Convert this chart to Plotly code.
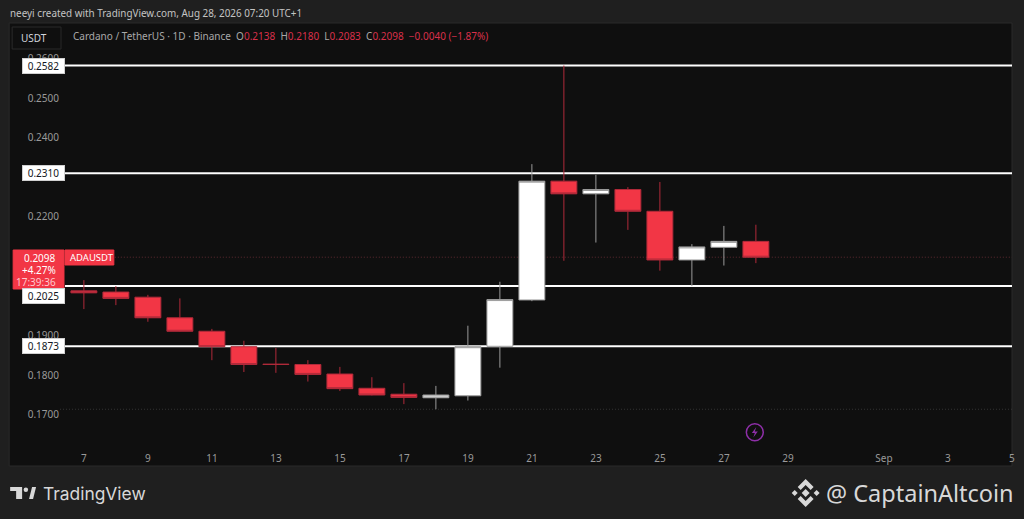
import plotly.graph_objects as go

# daily candles
dates = ['2026-08-%02d' % d for d in range(7, 29)]
opens = [.2013, .2010, .1997, .1945, .1911, .1872, .1828, .1827, .1803, .1767, .1752,
         .1743, .1748, .1873, .1990, .2290, .2258, .2269, .2214, .2091, .2123, .2138]
highs = [.2040, .2025, .2003, .1994, .1917, .1887, .1869, .1838, .1821, .1795, .1780,
         .1773, .1925, .2036, .2333, .2582, .2306, .2275, .2288, .2131, .2177, .2180]
lows = [.1967, .1977, .1935, .1910, .1838, .1808, .1806, .1784, .1760, .1749, .1727,
        .1714, .1736, .1819, .1987, .2089, .2135, .2167, .2064, .2025, .2077, .2083]
closes = [.2008, .1994, .1945, .1911, .1872, .1827, .1827, .1802, .1766, .1750, .1744,
          .1750, .1872, .1991, .2290, .2258, .2269, .2214, .2091, .2124, .2138, .2098]

levels = [0.2582, 0.2310, 0.2025, 0.1873]
price_ticks = [0.26, 0.25, 0.24, 0.22, 0.19, 0.18, 0.17]
last_price = 0.2098
dotted_low = 0.1714

date_ticks = ['2026-08-07', '2026-08-09', '2026-08-11', '2026-08-13', '2026-08-15', '2026-08-17',
              '2026-08-19', '2026-08-21', '2026-08-23', '2026-08-25', '2026-08-27', '2026-08-29',
              '2026-09-01', '2026-09-03', '2026-09-05']
date_labels = ['7', '9', '11', '13', '15', '17', '19', '21', '23', '25', '27', '29', 'Sep', '3', '5']

FONT = 'Noto Sans'
W, H = 1024, 519
L, R, T, B = 60, 1015, 24, 447


# pixel helpers for the furniture around the chart
def px(x):
    return (x - L) / (R - L)


def py(y):
    return 1 - (y - T) / (B - T)


def poly(points, color):
    d = 'M' + ' L'.join('%.5f,%.5f' % (px(a), py(b)) for a, b in points) + ' Z'
    return dict(type='path', xref='paper', yref='paper', path=d, fillcolor=color, line_width=0, layer='above')


def box(x0, y0, x1, y1, fill, line=None, layer='below'):
    return dict(type='rect', xref='paper', yref='paper', x0=px(x0), x1=px(x1), y0=py(y0), y1=py(y1),
                fillcolor=fill, line=dict(color=line or fill, width=1), layer=layer)


def label(x, y, text, color='#c8c8c8', size=10, anchor='left', font=FONT):
    return dict(x=px(x), y=py(y), xref='paper', yref='paper', text=text, showarrow=False,
                xanchor=anchor, yanchor='middle', font=dict(family=font, size=size, color=color), borderpad=0)


fig = go.Figure(go.Candlestick(
    x=dates, open=opens, high=highs, low=lows, close=closes,
    increasing=dict(line=dict(color='#9a9a9a', width=1), fillcolor='#ffffff'),
    decreasing=dict(line=dict(color='#b02a3a', width=1), fillcolor='#f23645'),
    hoverinfo='skip', showlegend=False))

shapes = [box(9, 23, 1015, 466, '#0f0f0f', '#2a2a2a')]
for lv in levels:
    shapes.append(dict(type='line', xref='paper', yref='y', x0=px(65), x1=1, y0=lv, y1=lv,
                       line=dict(color='#ffffff', width=2), layer='below'))
shapes.append(dict(type='line', xref='paper', yref='y', x0=px(115), x1=1, y0=last_price, y1=last_price,
                   line=dict(color='#5e2a30', width=1, dash='1px,2px'), layer='below'))
shapes.append(dict(type='line', xref='paper', yref='y', x0=0, x1=1, y0=dotted_low, y1=dotted_low,
                   line=dict(color='#333333', width=1, dash='1px,2px'), layer='below'))

# usdt button, level boxes, red price tag
shapes.append(dict(type='rect', xref='paper', yref='paper', x0=px(12), x1=px(61), y0=py(27), y1=py(49),
                   line=dict(color='#2a2a2a', width=1), fillcolor='#0f0f0f', layer='below'))
ann = []
for lv in levels:
    # the 0.2025 box is pushed down under the red price tag
    ann.append(dict(x=px(43), y=lv, xref='paper', yref='y', xanchor='center', yanchor='middle',
                    yshift=-9.5 if lv == 0.2025 else 0,
                    text='%.4f' % lv, showarrow=False, width=41, height=14,
                    bgcolor='#ffffff', bordercolor='#d0d0d0', borderwidth=1, borderpad=0,
                    font=dict(family=FONT, size=10, color='#131722')))
shapes.append(box(13, 250, 64, 289, '#f23645', layer='above'))
shapes.append(box(65, 250, 114, 265, '#f23645', layer='above'))

# logos
logo = '#d8d8d8'
shapes += [
    poly([(10, 487), (22, 487), (22, 499), (16, 499), (16, 491), (10, 491)], logo),
    poly([(29, 499), (32, 487), (36, 487), (33, 499)], logo),
    dict(type='circle', xref='paper', yref='paper', x0=px(23.5), x1=px(28), y0=py(487.5), y1=py(492),
         fillcolor=logo, line_width=0, layer='above'),
    poly([(808, 479), (816, 487), (813, 490), (808, 485), (803, 490), (800, 487)], logo),
    poly([(808, 507), (816, 499), (813, 496), (808, 501), (803, 496), (800, 499)], logo),
    poly([(797, 490), (800, 493), (797, 496), (794, 493)], logo),
    poly([(819, 490), (822, 493), (819, 496), (816, 493)], logo),
    poly([(808, 489), (812, 493), (808, 497), (804, 493)], logo),
    dict(type='circle', xref='paper', yref='paper', x0=px(748.5), x1=px(765.5), y0=py(423.8), y1=py(440.8),
         fillcolor='rgba(0,0,0,0)', line=dict(color='#8e2fa8', width=1.5), layer='above'),
    poly([(758.5, 427), (754, 433), (757, 433), (755.5, 437.5), (760, 431.5), (757, 431.5)], '#8e2fa8'),
]

ann.append(label(9, 13, 'neeyi created with TradingView.com, Aug 28, 2026 07:20 UTC+1', '#c4c4c4', 9.9))
ann.append(label(20, 38, 'USDT', '#d1d4dc', 10))
red = '#d9304a'
grey = '#a8a8a8'
ohlc = ('<span style="color:%s">Cardano / TetherUS · 1D · Binance&nbsp;&nbsp;O</span>0.2138'
        '<span style="color:%s">&nbsp;&nbsp;H</span>0.2180<span style="color:%s">&nbsp;&nbsp;L</span>0.2083'
        '<span style="color:%s">&nbsp;&nbsp;C</span>0.2098&nbsp;&nbsp;−0.0040 (−1.87%%)') % (grey, grey, grey, grey)
ann.append(label(72, 36.5, ohlc, red, 10))
ann.append(label(57, 257.5, '0.2098', '#ffffff', 10, 'right'))
ann.append(label(57, 269.5, '+4.27%', '#ffffff', 10, 'right'))
ann.append(label(57, 281.5, '17:39:36', '#ffc9ce', 10, 'right'))
ann.append(label(69, 257.5, 'ADAUSDT', '#ffffff', 9.5))
ann.append(label(42, 493, 'TradingView', '#d8d8d8', 17.4, 'left', 'Inter'))
ann.append(label(1018, 492.5, '@ CaptainAltcoin', '#d8d8d8', 23.5, 'right'))

fig.update_layout(
    width=W, height=H, margin=dict(l=L, r=W - R, t=T, b=H - B),
    paper_bgcolor='#1f1f1f', plot_bgcolor='#0f0f0f',
    boxgap=0.19, boxgroupgap=0, shapes=shapes, annotations=ann, showlegend=False,
    xaxis=dict(type='date', range=['2026-08-06 06:05', '2026-09-05 00:05'], rangeslider_visible=False,
               tickmode='array', tickvals=date_ticks, ticktext=date_labels, showgrid=False, zeroline=False,
               showline=False, ticks='outside', ticklen=2, tickcolor='rgba(0,0,0,0)',
               tickfont=dict(family=FONT, size=10, color='#9a9a9a')),
    yaxis=dict(range=[0.16187, 0.26869], tickmode='array', tickvals=price_ticks,
               ticktext=['%.4f' % v for v in price_ticks], showgrid=False, zeroline=False, showline=False,
               ticks='', tickfont=dict(family=FONT, size=10, color='#9a9a9a')),
)

fig.write_html('out.html', config=dict(displayModeBar=False), post_script="document.body.style.margin='0'")
